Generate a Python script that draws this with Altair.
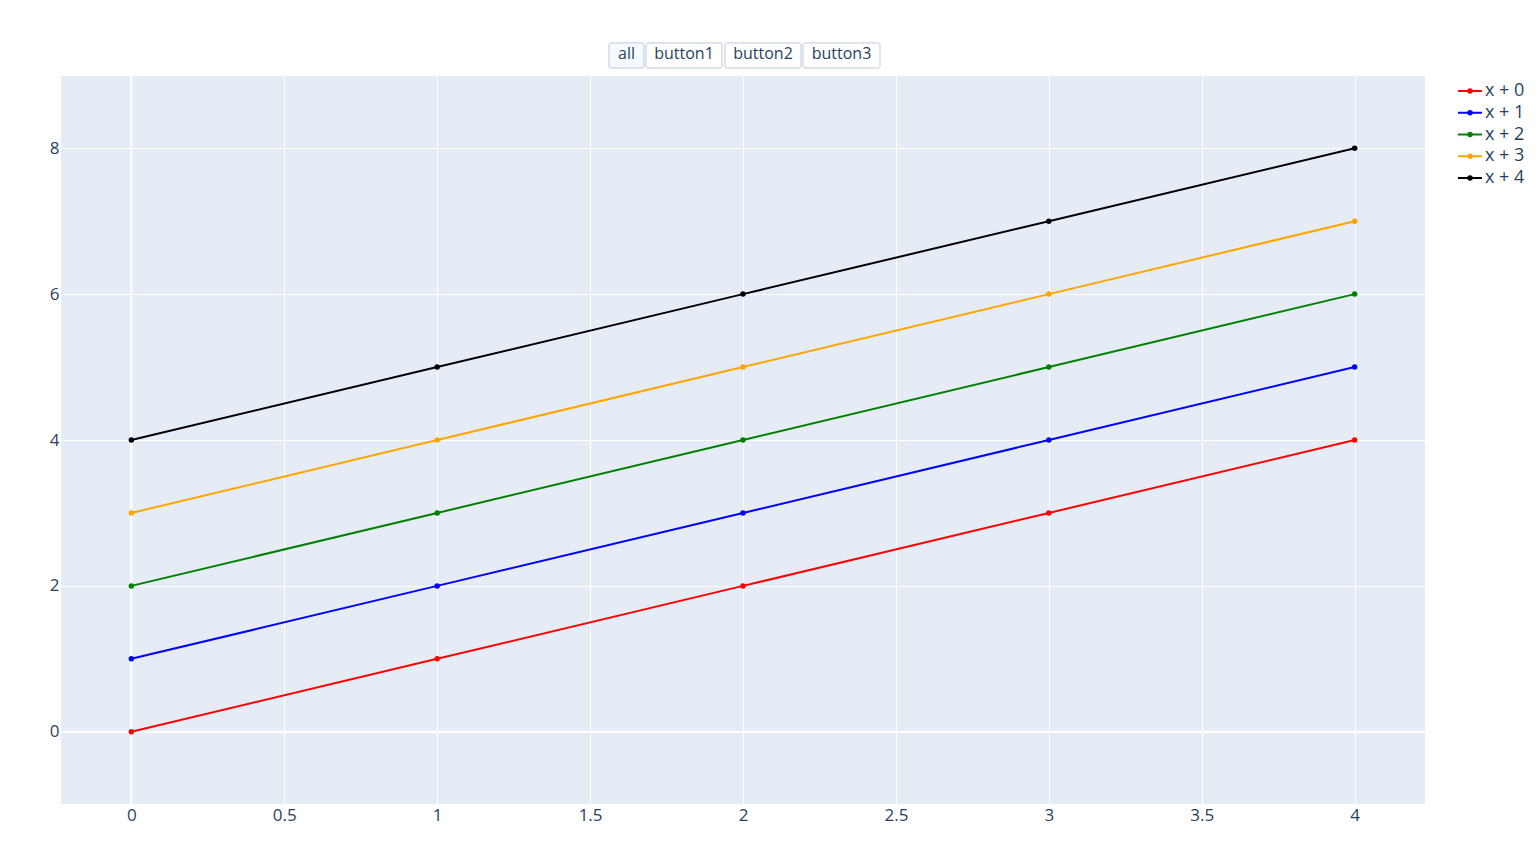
import altair as alt
import pandas as pd

# ---- data ----
x_values = [0, 1, 2, 3, 4]
series_names = ["x + 0", "x + 1", "x + 2", "x + 3", "x + 4"]
y_series0 = [0, 1, 2, 3, 4]
y_series1 = [1, 2, 3, 4, 5]
y_series2 = [2, 3, 4, 5, 6]
y_series3 = [3, 4, 5, 6, 7]
y_series4 = [4, 5, 6, 7, 8]
series_colors = ["red", "blue", "green", "orange", "black"]
x_ticks = [0, 0.5, 1, 1.5, 2, 2.5, 3, 3.5, 4]
y_ticks = [0, 2, 4, 6, 8]
button_labels = ["all", "button1", "button2", "button3"]

all_series = [y_series0, y_series1, y_series2, y_series3, y_series4]
rows = []
for name, ys in zip(series_names, all_series):
    for xv, yv in zip(x_values, ys):
        rows.append({"x": xv, "y": yv, "series": name})
df = pd.DataFrame(rows)
leg_df = pd.DataFrame({"series": series_names})

FONT = "Open Sans"
FC = "#2a3f5f"
FS = 17

xscale = alt.Scale(domain=[-0.23, 4.23], nice=False, zero=False)
yscale = alt.Scale(domain=[-0.99, 8.99], nice=False, zero=False)
cscale = alt.Scale(domain=series_names, range=series_colors)

base = alt.Chart(df).encode(
    x=alt.X("x:Q", scale=xscale,
            axis=alt.Axis(title=None, values=x_ticks, format="~g", grid=True,
                          gridColor="white", gridWidth=1, domain=False, ticks=False,
                          labelFont=FONT, labelFontSize=FS, labelColor=FC,
                          labelPadding=3, labelFlush=False)),
    y=alt.Y("y:Q", scale=yscale,
            axis=alt.Axis(title=None, values=y_ticks, format="~g", grid=True,
                          gridColor="white", gridWidth=1, domain=False, ticks=False,
                          labelFont=FONT, labelFontSize=FS, labelColor=FC,
                          labelPadding=2, labelFlush=False)),
    color=alt.Color("series:N", scale=cscale, legend=None),
)

zero_x = alt.Chart(pd.DataFrame({"v": [0]})).mark_rule(color="white", strokeWidth=2).encode(
    x=alt.X("v:Q", scale=xscale))
zero_y = alt.Chart(pd.DataFrame({"v": [0]})).mark_rule(color="white", strokeWidth=2).encode(
    y=alt.Y("v:Q", scale=yscale))

lines = base.mark_line(strokeWidth=2)
points = base.mark_point(filled=True, size=30, opacity=1)

# update-menu buttons (decoration above the plot)
btn_x = [(548, 583), (585, 661), (664, 740), (742, 819)]
btn_layers = []
for i, lab in enumerate(button_labels):
    x0, x1 = btn_x[i]
    d = pd.DataFrame({"label": [lab]})
    rect = alt.Chart(d).mark_rect(
        fill="#F4FAFF" if i == 0 else "white", stroke="#BEC8D9", strokeWidth=1,
        cornerRadius=2).encode(
        x=alt.value(x0), x2=alt.value(x1), y=alt.value(-33), y2=alt.value(-8))
    txt = alt.Chart(d).mark_text(
        font=FONT, fontSize=16, color=FC, align="center", baseline="middle").encode(
        x=alt.value((x0 + x1) / 2), y=alt.value(-22), text="label:N")
    btn_layers += [rect, txt]

main = alt.layer(zero_x, zero_y, lines, points, *btn_layers).properties(
    width=1364, height=728,
    view=alt.ViewBackground(fill="#E5ECF6", stroke=None),
)

# custom legend (line + dot + label)
ly = alt.Y("series:N", scale=alt.Scale(domain=series_names, type="point", padding=0.69),
           axis=None)
lc = alt.Color("series:N", scale=cscale, legend=None)
leg_base = alt.Chart(leg_df).encode(y=ly, color=lc)
leg_line = leg_base.mark_rule(strokeWidth=2).encode(x=alt.value(0), x2=alt.value(24))
leg_pt = leg_base.mark_point(filled=True, size=30, opacity=1).encode(x=alt.value(12))
leg_txt = alt.Chart(leg_df).mark_text(
    font=FONT, fontSize=18, color=FC, align="left", baseline="middle").encode(
    y=ly, x=alt.value(27), text="series:N")
legend = alt.layer(leg_line, leg_pt, leg_txt).properties(
    width=60, height=117, view=alt.ViewBackground(fill=None, stroke=None))

chart = alt.hconcat(main, legend, spacing=31).properties(
    autosize=alt.AutoSizeParams(type="pad"),
    padding={"left": 41, "top": 34, "right": 0, "bottom": 10},
).configure_view(stroke=None).configure(background="white")

chart.save("out.html", embed_options={"renderer": "svg", "actions": False})
